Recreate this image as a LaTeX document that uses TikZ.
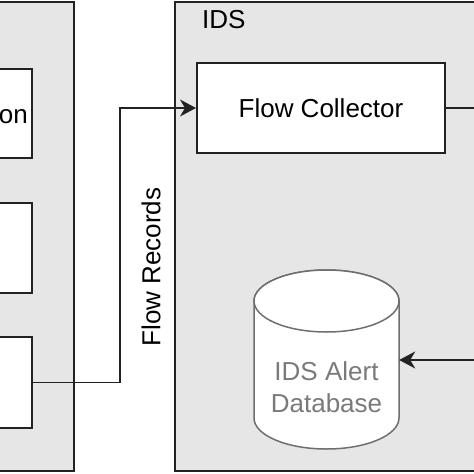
\documentclass[tikz,border=0pt]{standalone}
\usepackage{fontspec}
\setmainfont{Liberation Sans}
\usetikzlibrary{arrows.meta}
\definecolor{contfill}{HTML}{E6E6E6}
\definecolor{edge}{HTML}{222222}
\definecolor{cylline}{HTML}{6E6E6E}
\definecolor{cyltext}{HTML}{7A7A7A}
\tikzset{
  container/.style={draw=edge, fill=contfill, line width=2pt},
  procbox/.style={draw=edge, fill=white, line width=2pt, inner sep=0pt},
  conn/.style={draw=edge, line width=1.4pt},
  tip/.style={-{Stealth[length=16pt,width=17pt,inset=5pt]}},
  lbl/.style={font=\fontsize{26}{32}\selectfont, inner sep=0pt},
  cyl/.style={draw=cylline, line width=1.5pt, fill=white}
}
\begin{document}
\begin{tikzpicture}[x=1pt,y=-1pt]
\useasboundingbox (0,0) rectangle (474,474);
% containers
\node[container, minimum width=90pt, minimum height=469pt, inner sep=0pt] (left) at (29,236.5) {};
\node[container, minimum width=320pt, minimum height=469pt, inner sep=0pt] (ids) at (335,236.5) {};
\node[lbl, anchor=base west] (idslabel) at (202,28) {IDS};
% left boxes
\node[procbox, minimum width=52pt, minimum height=89pt] (b1) at (6,113.5) {};
\node[lbl, anchor=base east] (b1text) at (28,123) {on};
\node[procbox, minimum width=52pt, minimum height=90pt] (b2) at (6,248) {};
\node[procbox, minimum width=52pt, minimum height=91pt] (b3) at (6,382.5) {};
% flow collector
\node[procbox, minimum width=248pt, minimum height=90pt, lbl] (fc) at (321,108) {Flow Collector};
% flow records connector
\draw[conn, tip] (b3.east) -- (120,382.5) |- (fc.west);
\node[lbl, rotate=90] (fr) at (151,267) {Flow Records};
% right-side lines
\coordinate (r1) at (480,108);
\draw[conn] (fc.east) -- (r1);
% database cylinder
\node[minimum width=145pt, minimum height=179pt, inner sep=0pt] (db) at (326.5,360) {};
\draw[cyl] (254,301) -- (254,418) arc[start angle=180, end angle=360, x radius=72.5pt, y radius=31pt] -- (399,301) arc[start angle=0, end angle=180, x radius=72.5pt, y radius=31pt] -- cycle;
\draw[cyl] (326.5,301) ellipse[x radius=72.5pt, y radius=31pt];
\node[lbl, text=cyltext, align=center] (dbtext) at (326.5,387.5) {IDS Alert\\Database};
\coordinate (r2) at (480,360);
\draw[conn, tip] (r2) -- (db.east);
\end{tikzpicture}
\end{document}
